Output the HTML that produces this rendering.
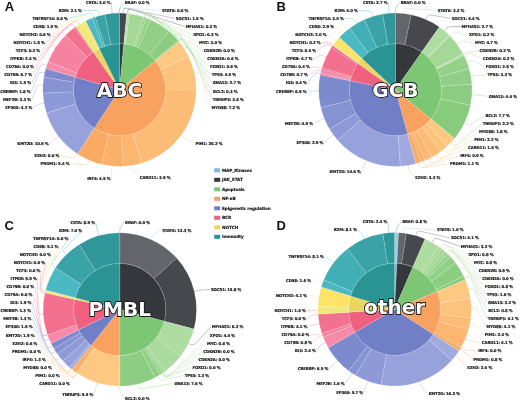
<!DOCTYPE html>
<html><head><meta charset="utf-8"><title>Figure</title>
<style>
html,body{margin:0;padding:0;background:#fff;}
svg{display:block;}
.lab text{font-family:"DejaVu Sans","Liberation Sans",sans-serif;font-weight:bold;font-size:3.9px;letter-spacing:-0.15px;fill:#111;stroke:#111;stroke-width:0.15px;}
.leg text{font-family:"DejaVu Sans","Liberation Sans",sans-serif;font-weight:bold;font-size:4.25px;letter-spacing:-0.14px;fill:#111;stroke:#111;stroke-width:0.12px;}
.ttl text{font-family:"DejaVu Sans","Liberation Sans",sans-serif;font-weight:bold;font-size:20px;fill:#fff;stroke:#1a1a1a;stroke-width:1.8px;stroke-linejoin:round;paint-order:stroke fill;}
.pan text{font-family:"Liberation Sans",sans-serif;font-weight:bold;font-size:13px;fill:#111;}
.ln path{fill:none;stroke-width:0.45;stroke-opacity:0.8;}
</style></head><body>
<svg width="520" height="400" viewBox="0 0 520 400">
<rect width="520" height="400" fill="#fff"/>
<g class="ln"><path d="M124.00,2.35L121.23,5.68Q119.50,7.75 119.50,10.40L119.50,13.05" stroke="#30989b"/><path d="M161.10,10.42L122.19,7.92Q119.50,7.75 119.50,10.40L119.50,13.05" stroke="#96cdeb"/><path d="M175.03,18.49L126.03,8.39Q123.39,7.84 123.26,10.49L123.14,13.14" stroke="#64656a"/><path d="M184.85,26.56L130.61,9.03Q128.05,8.20 127.77,10.83L127.49,13.47" stroke="#46484d"/><path d="M192.34,34.63L132.08,9.42Q129.59,8.37 129.27,11.00L128.94,13.63" stroke="#afdca0"/><path d="M198.21,42.70L140.39,11.16Q138.02,9.87 137.42,12.45L136.82,15.03" stroke="#aada9c"/><path d="M202.83,50.77L147.74,13.50Q145.50,11.98 144.66,14.50L143.82,17.01" stroke="#a5d897"/><path d="M206.41,58.84L149.11,14.15Q146.98,12.49 146.09,14.99L145.20,17.48" stroke="#a0d693"/><path d="M209.08,66.91L152.61,15.69Q150.61,13.88 149.60,16.33L148.60,18.78" stroke="#9bd48e"/><path d="M210.92,74.98L164.83,22.31Q163.06,20.27 161.65,22.52L160.24,24.76" stroke="#96d18a"/><path d="M211.98,83.05L179.13,34.15Q177.62,31.90 175.74,33.77L173.86,35.64" stroke="#91cf86"/><path d="M212.30,91.12L184.14,40.04Q182.84,37.67 180.79,39.36L178.75,41.04" stroke="#8ccd81"/><path d="M211.88,99.19L189.84,48.34Q188.77,45.86 186.53,47.28L184.29,48.70" stroke="#87cb7d"/><path d="M210.70,107.26L200.28,74.19Q199.47,71.61 196.88,72.20L194.30,72.78" stroke="#fdc882"/><path d="M194.79,143.33L187.68,139.93Q185.24,138.76 183.12,137.18L180.99,135.60" stroke="#fdc27c"/><path d="M139.01,177.56L135.12,172.67Q133.44,170.56 132.99,167.94L132.54,165.33" stroke="#fcbc76"/><path d="M111.33,178.45L111.58,174.08Q111.73,171.38 111.98,168.74L112.23,166.10" stroke="#fcb670"/><path d="M70.32,163.75L84.26,164.81Q86.96,165.02 88.01,162.58L89.06,160.15" stroke="#fbb06a"/><path d="M60.08,155.68L71.98,157.89Q74.63,158.39 76.08,156.17L77.53,153.95" stroke="#fbaa64"/><path d="M49.41,144.00L52.28,141.25Q54.23,139.38 56.34,137.78L58.45,136.18" stroke="#a0aae1"/><path d="M33.00,107.26L36.40,105.38Q38.76,104.07 41.37,103.61L43.98,103.15" stroke="#97a2dc"/><path d="M31.82,99.19L36.65,87.20Q37.66,84.69 40.30,84.86L42.95,85.02" stroke="#8e9ad7"/><path d="M31.40,91.12L38.49,74.10Q39.53,71.61 42.12,72.20L44.70,72.78" stroke="#8692d2"/><path d="M31.72,83.05L40.62,65.78Q41.86,63.38 44.37,64.23L46.88,65.08" stroke="#7d8acd"/><path d="M32.78,74.98L49.69,46.87Q51.08,44.56 53.29,46.02L55.50,47.48" stroke="#f68aa8"/><path d="M34.62,66.91L60.29,33.50Q61.93,31.36 63.79,33.24L65.65,35.13" stroke="#f582a0"/><path d="M37.29,58.84L64.70,29.14Q66.53,27.16 68.24,29.18L69.95,31.20" stroke="#f47997"/><path d="M40.87,50.77L70.05,24.67Q72.06,22.87 73.59,25.03L75.13,27.19" stroke="#f3708e"/><path d="M45.49,42.70L74.43,21.46Q76.61,19.86 77.99,22.12L79.38,24.38" stroke="#f26886"/><path d="M51.36,34.63L79.70,18.17Q82.03,16.81 83.24,19.17L84.45,21.53" stroke="#f0e87a"/><path d="M58.85,26.56L84.47,15.55Q86.96,14.48 88.01,16.92L89.06,19.35" stroke="#fde469"/><path d="M68.67,18.49L89.41,13.16Q92.02,12.49 92.91,14.99L93.80,17.48" stroke="#4bb9c3"/><path d="M82.60,10.42L96.02,10.43Q98.72,10.43 99.39,12.99L100.06,15.55" stroke="#42aeb6"/><path d="M111.33,2.35L111.54,5.43Q111.73,8.12 111.98,10.76L112.23,13.40" stroke="#39a3a8"/><path d="M399.90,2.35L397.13,5.68Q395.40,7.75 395.40,10.40L395.40,13.05" stroke="#30989b"/><path d="M437.00,10.42L406.61,8.37Q403.91,8.19 403.64,10.83L403.36,13.46" stroke="#96cdeb"/><path d="M450.93,18.49L430.68,14.98Q428.02,14.52 426.97,16.95L425.91,19.38" stroke="#64656a"/><path d="M460.75,26.56L450.52,26.66Q447.82,26.69 446.12,28.73L444.43,30.77" stroke="#46484d"/><path d="M468.24,34.63L455.93,32.19Q453.28,31.67 451.41,33.54L449.54,35.42" stroke="#afdca0"/><path d="M474.11,42.70L464.12,41.47Q461.44,41.14 459.30,42.71L457.17,44.28" stroke="#aada9c"/><path d="M478.73,50.77L470.75,51.50Q468.06,51.74 465.71,52.97L463.36,54.20" stroke="#a5d897"/><path d="M482.31,58.84L471.05,53.85Q468.58,52.75 466.21,53.95L463.85,55.14" stroke="#a0d693"/><path d="M484.98,66.91L474.21,61.27Q471.82,60.02 469.35,60.98L466.88,61.94" stroke="#9bd48e"/><path d="M486.82,74.98L478.82,75.24Q476.12,75.32 473.51,75.79L470.90,76.26" stroke="#96d18a"/><path d="M488.01,96.36L479.91,95.45Q477.22,95.15 474.58,94.97L471.93,94.80" stroke="#91cf86"/><path d="M484.65,115.33L471.60,123.75Q469.33,125.22 466.94,124.07L464.55,122.93" stroke="#8ccd81"/><path d="M481.86,123.40L456.93,144.46Q454.87,146.21 452.95,144.38L451.03,142.56" stroke="#87cb7d"/><path d="M478.15,131.47L449.59,151.61Q447.38,153.17 445.70,151.12L444.02,149.07" stroke="#fdc882"/><path d="M473.36,139.54L441.42,157.81Q439.08,159.15 437.67,156.91L436.26,154.66" stroke="#fdc27c"/><path d="M467.29,147.61L433.08,162.71Q430.61,163.80 429.47,161.41L428.34,159.02" stroke="#fcbc76"/><path d="M459.52,155.68L427.45,165.48Q424.87,166.27 423.91,163.80L422.96,161.33" stroke="#fcb670"/><path d="M449.28,163.75L422.71,167.58Q420.04,167.96 419.24,165.43L418.44,162.91" stroke="#fbb06a"/><path d="M414.53,177.63L410.66,172.73Q408.99,170.62 408.55,168.00L408.11,165.39" stroke="#fbaa64"/><path d="M361.60,172.04L362.96,167.99Q363.82,165.43 364.84,162.98L365.86,160.53" stroke="#a0aae1"/><path d="M324.13,142.40L327.04,139.73Q329.03,137.90 331.17,136.35L333.32,134.79" stroke="#97a2dc"/><path d="M313.76,123.70L317.04,121.86Q319.40,120.54 321.86,119.54L324.31,118.55" stroke="#8e9ad7"/><path d="M307.30,91.12L310.71,91.15Q313.41,91.17 316.06,91.13L318.71,91.08" stroke="#8692d2"/><path d="M307.62,83.05L313.64,74.72Q315.23,72.53 317.82,73.09L320.41,73.65" stroke="#7d8acd"/><path d="M308.68,74.98L313.69,71.35Q315.87,69.77 318.44,70.41L321.01,71.06" stroke="#f68aa8"/><path d="M310.52,66.91L313.91,66.97Q316.61,67.02 319.16,67.75L321.71,68.49" stroke="#f582a0"/><path d="M313.19,58.84L318.81,56.01Q321.22,54.79 323.62,55.92L326.02,57.05" stroke="#f47997"/><path d="M316.77,50.77L325.47,44.96Q327.72,43.46 329.90,44.95L332.09,46.45" stroke="#f3708e"/><path d="M321.39,42.70L326.01,42.30Q328.69,42.06 330.85,43.60L333.01,45.14" stroke="#f26886"/><path d="M327.26,34.63L329.84,36.17Q332.16,37.55 334.20,39.24L336.25,40.93" stroke="#f0e87a"/><path d="M334.75,26.56L338.26,27.71Q340.83,28.55 342.59,30.52L344.35,32.50" stroke="#fde469"/><path d="M344.57,18.49L351.46,18.77Q354.15,18.88 355.49,21.17L356.82,23.46" stroke="#4bb9c3"/><path d="M358.50,10.42L369.16,11.05Q371.85,11.20 372.61,13.74L373.37,16.28" stroke="#42aeb6"/><path d="M388.26,2.35L388.43,5.34Q388.58,8.03 388.80,10.67L389.02,13.32" stroke="#39a3a8"/><path d="M124.30,222.10L121.53,225.43Q119.80,227.50 119.80,230.15L119.80,232.80" stroke="#30989b"/><path d="M161.40,230.17L155.44,233.29Q153.05,234.55 151.98,236.97L150.90,239.39" stroke="#96cdeb"/><path d="M210.10,289.43L202.17,289.94Q199.48,290.12 196.90,290.75L194.33,291.37" stroke="#64656a"/><path d="M211.00,327.01L195.23,343.74Q193.37,345.71 191.00,344.54L188.62,343.37" stroke="#46484d"/><path d="M209.05,335.08L179.08,366.11Q177.20,368.06 175.35,366.16L173.49,364.27" stroke="#afdca0"/><path d="M206.26,343.15L169.26,374.66Q167.20,376.41 165.67,374.25L164.14,372.09" stroke="#aada9c"/><path d="M202.55,351.22L168.06,375.77Q165.86,377.34 164.38,375.15L162.89,372.95" stroke="#a5d897"/><path d="M197.76,359.29L168.21,376.01Q165.86,377.34 164.38,375.15L162.89,372.95" stroke="#a0d693"/><path d="M191.69,367.36L167.01,377.24Q164.51,378.24 163.06,376.02L161.62,373.80" stroke="#9bd48e"/><path d="M183.92,375.43L162.96,380.19Q160.33,380.78 159.02,378.48L157.71,376.18" stroke="#96d18a"/><path d="M173.68,383.50L141.84,388.74Q139.18,389.18 138.55,386.60L137.93,384.03" stroke="#91cf86"/><path d="M124.30,398.60L121.25,393.78Q119.80,391.50 119.80,388.85L119.80,386.20" stroke="#8ccd81"/><path d="M94.05,394.70L95.07,390.50Q95.70,387.88 96.48,385.35L97.26,382.81" stroke="#87cb7d"/><path d="M52.61,367.36L71.29,376.19Q73.74,377.34 75.22,375.15L76.71,372.95" stroke="#fdc882"/><path d="M60.38,375.43L71.06,376.96Q73.74,377.34 75.22,375.15L76.71,372.95" stroke="#fdc27c"/><path d="M70.62,383.50L72.52,379.75Q73.74,377.34 75.22,375.15L76.71,372.95" stroke="#fcbc76"/><path d="M46.54,359.29L68.82,373.97Q71.08,375.45 72.65,373.32L74.22,371.19" stroke="#fcb670"/><path d="M41.75,351.22L66.42,371.74Q68.49,373.46 70.15,371.40L71.81,369.33" stroke="#fbb06a"/><path d="M38.04,343.15L65.32,370.52Q67.23,372.43 68.93,370.40L70.63,368.36" stroke="#fbaa64"/><path d="M35.25,335.08L60.68,365.97Q62.40,368.06 64.25,366.16L66.11,364.27" stroke="#a0aae1"/><path d="M33.30,327.01L54.34,358.56Q55.84,360.81 57.90,359.15L59.97,357.49" stroke="#97a2dc"/><path d="M32.12,318.94L49.78,351.83Q51.06,354.21 53.28,352.76L55.50,351.32" stroke="#8e9ad7"/><path d="M31.70,310.87L46.67,346.12Q47.72,348.60 50.05,347.34L52.38,346.08" stroke="#8692d2"/><path d="M32.02,302.80L43.38,338.68Q44.20,341.26 46.64,340.23L49.09,339.20" stroke="#7d8acd"/><path d="M34.92,286.66L42.04,334.02Q42.44,336.69 44.94,335.81L47.44,334.94" stroke="#f68aa8"/><path d="M33.08,294.73L41.85,334.06Q42.44,336.69 44.94,335.81L47.44,334.94" stroke="#f582a0"/><path d="M37.59,278.59L37.92,311.69Q37.95,314.39 40.59,314.23L43.24,314.07" stroke="#f47997"/><path d="M41.17,270.52L39.93,289.01Q39.75,291.71 42.34,292.28L44.93,292.86" stroke="#f3708e"/><path d="M45.79,262.45L40.66,287.47Q40.12,290.12 42.70,290.75L45.27,291.37" stroke="#f26886"/><path d="M51.66,254.38L41.36,285.97Q40.52,288.54 43.09,289.22L45.65,289.89" stroke="#f0e87a"/><path d="M59.15,246.31L46.01,273.81Q44.85,276.25 47.27,277.32L49.69,278.40" stroke="#fde469"/><path d="M68.97,238.24L52.57,262.56Q51.06,264.79 53.28,266.24L55.50,267.68" stroke="#4bb9c3"/><path d="M82.90,230.17L64.29,249.02Q62.40,250.94 64.25,252.84L66.11,254.73" stroke="#42aeb6"/><path d="M95.74,222.10L96.79,228.00Q97.27,230.66 98.00,233.20L98.72,235.75" stroke="#39a3a8"/><path d="M401.36,221.90L398.45,225.28Q396.69,227.33 396.63,229.98L396.56,232.63" stroke="#30989b"/><path d="M436.20,229.97L405.66,227.91Q402.96,227.73 402.69,230.36L402.42,233.00" stroke="#96cdeb"/><path d="M450.13,238.04L419.97,231.12Q417.34,230.52 416.60,233.06L415.87,235.61" stroke="#64656a"/><path d="M459.95,246.11L437.25,238.61Q434.69,237.77 433.39,240.08L432.10,242.39" stroke="#46484d"/><path d="M467.44,254.18L445.94,244.56Q443.47,243.46 441.89,245.58L440.31,247.71" stroke="#afdca0"/><path d="M473.31,262.25L449.08,247.45Q446.77,246.04 445.09,248.08L443.40,250.13" stroke="#aada9c"/><path d="M477.93,270.32L452.07,250.43Q449.93,248.78 448.15,250.74L446.36,252.70" stroke="#a5d897"/><path d="M481.51,278.39L453.43,252.06Q451.46,250.22 449.62,252.13L447.79,254.04" stroke="#a0d693"/><path d="M484.18,286.46L454.76,253.70Q452.95,251.69 451.07,253.55L449.18,255.41" stroke="#9bd48e"/><path d="M486.02,294.53L458.82,258.48Q457.19,256.32 455.17,258.04L453.15,259.75" stroke="#96d18a"/><path d="M487.08,302.60L465.97,268.79Q464.54,266.50 462.28,267.88L460.02,269.27" stroke="#91cf86"/><path d="M487.40,310.67L470.66,278.16Q469.43,275.76 467.01,276.84L464.59,277.92" stroke="#8ccd81"/><path d="M486.98,318.74L474.73,290.05Q473.67,287.57 471.11,288.27L468.56,288.98" stroke="#87cb7d"/><path d="M485.80,326.81L477.79,310.67Q476.59,308.25 473.94,308.29L471.29,308.32" stroke="#fdc882"/><path d="M483.85,334.88L476.88,326.94Q475.10,324.91 472.50,324.41L469.90,323.90" stroke="#fdc27c"/><path d="M481.06,342.95L472.91,341.42Q470.26,340.92 467.81,339.90L465.37,338.88" stroke="#fcbc76"/><path d="M477.35,351.02L468.31,350.47Q465.61,350.30 463.32,348.98L461.02,347.65" stroke="#fcb670"/><path d="M472.56,359.09L466.58,353.87Q464.54,352.10 462.28,350.72L460.02,349.33" stroke="#fbb06a"/><path d="M466.49,367.16L461.52,361.10Q459.81,359.01 457.71,357.40L455.60,355.80" stroke="#fbaa64"/><path d="M427.88,393.58L423.21,388.76Q421.33,386.82 420.47,384.32L419.60,381.81" stroke="#a0aae1"/><path d="M363.89,392.81L365.13,388.70Q365.90,386.11 366.83,383.63L367.75,381.15" stroke="#97a2dc"/><path d="M345.42,383.30L347.68,379.82Q349.15,377.55 350.62,375.35L352.09,373.14" stroke="#8e9ad7"/><path d="M329.01,369.00L331.63,365.91Q333.38,363.86 335.36,362.09L337.34,360.33" stroke="#8692d2"/><path d="M316.55,351.02L319.18,347.00Q320.66,344.74 323.05,343.60L325.44,342.45" stroke="#7d8acd"/><path d="M312.84,342.95L315.77,339.15Q317.43,337.02 319.92,336.12L322.41,335.23" stroke="#f68aa8"/><path d="M310.05,334.88L314.04,334.97Q316.74,335.04 319.26,334.21L321.78,333.37" stroke="#f582a0"/><path d="M308.10,326.81L311.53,325.73Q314.10,324.91 316.70,324.41L319.30,323.90" stroke="#f47997"/><path d="M306.92,318.74L310.58,316.11Q312.77,314.53 315.41,314.36L318.06,314.19" stroke="#f3708e"/><path d="M306.50,310.67L309.91,310.49Q312.61,310.35 315.26,310.31L317.91,310.28" stroke="#f26886"/><path d="M307.71,295.51L311.03,295.64Q313.73,295.75 316.34,296.19L318.95,296.62" stroke="#f0e87a"/><path d="M311.70,280.25L314.80,280.97Q317.43,281.58 319.92,282.48L322.41,283.37" stroke="#fde469"/><path d="M324.58,256.57L327.10,258.15Q329.39,259.59 331.49,261.20L333.60,262.80" stroke="#4bb9c3"/><path d="M357.70,229.97L360.05,232.20Q362.01,234.05 363.07,236.48L364.12,238.92" stroke="#42aeb6"/><path d="M388.04,221.90L388.19,224.84Q388.32,227.54 388.53,230.18L388.73,232.83" stroke="#39a3a8"/></g>
<g class="pie"><path d="M119.50,13.05A76.70,76.70 0 0 1 126.77,13.40L123.86,43.94A46.02,46.02 0 0 0 119.50,43.73Z" fill="#46484d" stroke="#fff" stroke-opacity="0.38" stroke-width="0.4"/><path d="M126.77,13.40A76.70,76.70 0 0 1 128.22,13.55L124.73,44.03A46.02,46.02 0 0 0 123.86,43.94Z" fill="#afdca0" stroke="#fff" stroke-opacity="0.38" stroke-width="0.4"/><path d="M128.22,13.55A76.70,76.70 0 0 1 129.66,13.73L125.60,44.14A46.02,46.02 0 0 0 124.73,44.03Z" fill="#aada9c" stroke="#fff" stroke-opacity="0.38" stroke-width="0.4"/><path d="M129.66,13.73A76.70,76.70 0 0 1 143.82,17.01L134.09,46.11A46.02,46.02 0 0 0 125.60,44.14Z" fill="#a5d897" stroke="#fff" stroke-opacity="0.38" stroke-width="0.4"/><path d="M143.82,17.01A76.70,76.70 0 0 1 146.57,17.98L135.74,46.69A46.02,46.02 0 0 0 134.09,46.11Z" fill="#9bd48e" stroke="#fff" stroke-opacity="0.38" stroke-width="0.4"/><path d="M146.57,17.98A76.70,76.70 0 0 1 150.61,19.64L138.16,47.68A46.02,46.02 0 0 0 135.74,46.69Z" fill="#96d18a" stroke="#fff" stroke-opacity="0.38" stroke-width="0.4"/><path d="M150.61,19.64A76.70,76.70 0 0 1 169.05,31.20L149.23,54.62A46.02,46.02 0 0 0 138.16,47.68Z" fill="#91cf86" stroke="#fff" stroke-opacity="0.38" stroke-width="0.4"/><path d="M169.05,31.20A76.70,76.70 0 0 1 178.28,40.48L154.77,60.19A46.02,46.02 0 0 0 149.23,54.62Z" fill="#8ccd81" stroke="#fff" stroke-opacity="0.38" stroke-width="0.4"/><path d="M178.28,40.48A76.70,76.70 0 0 1 179.21,41.60L155.32,60.86A46.02,46.02 0 0 0 154.77,60.19Z" fill="#87cb7d" stroke="#fff" stroke-opacity="0.38" stroke-width="0.4"/><path d="M179.21,41.60A76.70,76.70 0 0 1 188.54,56.33L160.92,69.70A46.02,46.02 0 0 0 155.32,60.86Z" fill="#fdc882" stroke="#fff" stroke-opacity="0.38" stroke-width="0.4"/><path d="M188.54,56.33A76.70,76.70 0 0 1 196.20,90.11L165.52,89.97A46.02,46.02 0 0 0 160.92,69.70Z" fill="#fdc27c" stroke="#fff" stroke-opacity="0.38" stroke-width="0.4"/><path d="M196.20,90.11A76.70,76.70 0 0 1 141.74,163.15L132.85,133.79A46.02,46.02 0 0 0 165.52,89.97Z" fill="#fcbc76" stroke="#fff" stroke-opacity="0.38" stroke-width="0.4"/><path d="M141.74,163.15A76.70,76.70 0 0 1 123.14,166.36L121.68,135.72A46.02,46.02 0 0 0 132.85,133.79Z" fill="#fcb670" stroke="#fff" stroke-opacity="0.38" stroke-width="0.4"/><path d="M123.14,166.36A76.70,76.70 0 0 1 101.47,164.30L108.68,134.48A46.02,46.02 0 0 0 121.68,135.72Z" fill="#fbb06a" stroke="#fff" stroke-opacity="0.38" stroke-width="0.4"/><path d="M101.47,164.30A76.70,76.70 0 0 1 77.53,153.95L94.32,128.27A46.02,46.02 0 0 0 108.68,134.48Z" fill="#fbaa64" stroke="#fff" stroke-opacity="0.38" stroke-width="0.4"/><path d="M77.53,153.95A76.70,76.70 0 0 1 46.42,113.04L75.65,103.72A46.02,46.02 0 0 0 94.32,128.27Z" fill="#97a2dc" stroke="#fff" stroke-opacity="0.38" stroke-width="0.4"/><path d="M46.42,113.04A76.70,76.70 0 0 1 42.87,93.02L73.52,91.71A46.02,46.02 0 0 0 75.65,103.72Z" fill="#8e9ad7" stroke="#fff" stroke-opacity="0.38" stroke-width="0.4"/><path d="M42.87,93.02A76.70,76.70 0 0 1 43.86,77.07L74.11,82.14A46.02,46.02 0 0 0 73.52,91.71Z" fill="#8692d2" stroke="#fff" stroke-opacity="0.38" stroke-width="0.4"/><path d="M43.86,77.07A76.70,76.70 0 0 1 45.79,68.55L75.27,77.03A46.02,46.02 0 0 0 74.11,82.14Z" fill="#7d8acd" stroke="#fff" stroke-opacity="0.38" stroke-width="0.4"/><path d="M45.79,68.55A76.70,76.70 0 0 1 48.13,61.66L76.68,72.90A46.02,46.02 0 0 0 75.27,77.03Z" fill="#f68aa8" stroke="#fff" stroke-opacity="0.38" stroke-width="0.4"/><path d="M48.13,61.66A76.70,76.70 0 0 1 65.65,35.13L87.19,56.98A46.02,46.02 0 0 0 76.68,72.90Z" fill="#f582a0" stroke="#fff" stroke-opacity="0.38" stroke-width="0.4"/><path d="M65.65,35.13A76.70,76.70 0 0 1 74.53,27.61L92.52,52.47A46.02,46.02 0 0 0 87.19,56.98Z" fill="#f3708e" stroke="#fff" stroke-opacity="0.38" stroke-width="0.4"/><path d="M74.53,27.61A76.70,76.70 0 0 1 75.72,26.77L93.23,51.96A46.02,46.02 0 0 0 92.52,52.47Z" fill="#f26886" stroke="#fff" stroke-opacity="0.38" stroke-width="0.4"/><path d="M75.72,26.77A76.70,76.70 0 0 1 83.16,22.20L97.70,49.22A46.02,46.02 0 0 0 93.23,51.96Z" fill="#f0e87a" stroke="#fff" stroke-opacity="0.38" stroke-width="0.4"/><path d="M83.16,22.20A76.70,76.70 0 0 1 85.75,20.87L99.25,48.42A46.02,46.02 0 0 0 97.70,49.22Z" fill="#fde469" stroke="#fff" stroke-opacity="0.38" stroke-width="0.4"/><path d="M85.75,20.87A76.70,76.70 0 0 1 92.43,17.98L103.26,46.69A46.02,46.02 0 0 0 99.25,48.42Z" fill="#4bb9c3" stroke="#fff" stroke-opacity="0.38" stroke-width="0.4"/><path d="M92.43,17.98A76.70,76.70 0 0 1 95.18,17.01L104.91,46.11A46.02,46.02 0 0 0 103.26,46.69Z" fill="#42aeb6" stroke="#fff" stroke-opacity="0.38" stroke-width="0.4"/><path d="M95.18,17.01A76.70,76.70 0 0 1 105.03,14.43L110.82,44.56A46.02,46.02 0 0 0 104.91,46.11Z" fill="#39a3a8" stroke="#fff" stroke-opacity="0.38" stroke-width="0.4"/><path d="M105.03,14.43A76.70,76.70 0 0 1 119.50,13.05L119.50,43.73A46.02,46.02 0 0 0 110.82,44.56Z" fill="#30989b" stroke="#fff" stroke-opacity="0.38" stroke-width="0.4"/><path d="M119.50,89.75L119.50,43.73A46.02,46.02 0 0 1 123.86,43.94Z" fill="#34373c" stroke="#fff" stroke-opacity="0.35" stroke-width="0.4"/><path d="M119.50,89.75L123.86,43.94A46.02,46.02 0 0 1 155.32,60.86Z" fill="#7cc674" stroke="#fff" stroke-opacity="0.35" stroke-width="0.4"/><path d="M119.50,89.75L155.32,60.86A46.02,46.02 0 0 1 94.32,128.27Z" fill="#f9a15f" stroke="#fff" stroke-opacity="0.35" stroke-width="0.4"/><path d="M119.50,89.75L94.32,128.27A46.02,46.02 0 0 1 75.27,77.03Z" fill="#717fc7" stroke="#fff" stroke-opacity="0.35" stroke-width="0.4"/><path d="M119.50,89.75L75.27,77.03A46.02,46.02 0 0 1 93.23,51.96Z" fill="#f0607f" stroke="#fff" stroke-opacity="0.35" stroke-width="0.4"/><path d="M119.50,89.75L93.23,51.96A46.02,46.02 0 0 1 99.25,48.42Z" fill="#ebd75f" stroke="#fff" stroke-opacity="0.35" stroke-width="0.4"/><path d="M119.50,89.75L99.25,48.42A46.02,46.02 0 0 1 119.50,43.73Z" fill="#2a9494" stroke="#fff" stroke-opacity="0.35" stroke-width="0.4"/><path d="M395.40,13.05A76.70,76.70 0 0 1 411.24,14.70L404.91,44.72A46.02,46.02 0 0 0 395.40,43.73Z" fill="#64656a" stroke="#fff" stroke-opacity="0.38" stroke-width="0.4"/><path d="M411.24,14.70A76.70,76.70 0 0 1 439.36,26.90L421.77,52.04A46.02,46.02 0 0 0 404.91,44.72Z" fill="#46484d" stroke="#fff" stroke-opacity="0.38" stroke-width="0.4"/><path d="M439.36,26.90A76.70,76.70 0 0 1 449.16,35.05L427.66,56.93A46.02,46.02 0 0 0 421.77,52.04Z" fill="#afdca0" stroke="#fff" stroke-opacity="0.38" stroke-width="0.4"/><path d="M449.16,35.05A76.70,76.70 0 0 1 449.92,35.80L428.11,57.38A46.02,46.02 0 0 0 427.66,56.93Z" fill="#aada9c" stroke="#fff" stroke-opacity="0.38" stroke-width="0.4"/><path d="M449.92,35.80A76.70,76.70 0 0 1 463.11,53.73L436.03,68.14A46.02,46.02 0 0 0 428.11,57.38Z" fill="#a5d897" stroke="#fff" stroke-opacity="0.38" stroke-width="0.4"/><path d="M463.11,53.73A76.70,76.70 0 0 1 463.61,54.67L436.32,68.70A46.02,46.02 0 0 0 436.03,68.14Z" fill="#a0d693" stroke="#fff" stroke-opacity="0.38" stroke-width="0.4"/><path d="M463.61,54.67A76.70,76.70 0 0 1 464.09,55.62L436.61,69.27A46.02,46.02 0 0 0 436.32,68.70Z" fill="#9bd48e" stroke="#fff" stroke-opacity="0.38" stroke-width="0.4"/><path d="M464.09,55.62A76.70,76.70 0 0 1 469.09,68.49L439.62,76.99A46.02,46.02 0 0 0 436.61,69.27Z" fill="#96d18a" stroke="#fff" stroke-opacity="0.38" stroke-width="0.4"/><path d="M469.09,68.49A76.70,76.70 0 0 1 471.90,84.17L441.30,86.40A46.02,46.02 0 0 0 439.62,76.99Z" fill="#91cf86" stroke="#fff" stroke-opacity="0.38" stroke-width="0.4"/><path d="M471.90,84.17A76.70,76.70 0 0 1 470.50,105.33L440.46,99.10A46.02,46.02 0 0 0 441.30,86.40Z" fill="#8ccd81" stroke="#fff" stroke-opacity="0.38" stroke-width="0.4"/><path d="M470.50,105.33A76.70,76.70 0 0 1 454.55,138.57L430.89,119.04A46.02,46.02 0 0 0 440.46,99.10Z" fill="#87cb7d" stroke="#fff" stroke-opacity="0.38" stroke-width="0.4"/><path d="M454.55,138.57A76.70,76.70 0 0 1 447.23,146.28L426.50,123.67A46.02,46.02 0 0 0 430.89,119.04Z" fill="#fdc882" stroke="#fff" stroke-opacity="0.38" stroke-width="0.4"/><path d="M447.23,146.28A76.70,76.70 0 0 1 440.66,151.68L422.55,126.91A46.02,46.02 0 0 0 426.50,123.67Z" fill="#fdc27c" stroke="#fff" stroke-opacity="0.38" stroke-width="0.4"/><path d="M440.66,151.68A76.70,76.70 0 0 1 431.66,157.34L417.16,130.30A46.02,46.02 0 0 0 422.55,126.91Z" fill="#fcbc76" stroke="#fff" stroke-opacity="0.38" stroke-width="0.4"/><path d="M431.66,157.34A76.70,76.70 0 0 1 424.94,160.53L413.12,132.22A46.02,46.02 0 0 0 417.16,130.30Z" fill="#fcb670" stroke="#fff" stroke-opacity="0.38" stroke-width="0.4"/><path d="M424.94,160.53A76.70,76.70 0 0 1 420.97,162.06L410.74,133.14A46.02,46.02 0 0 0 413.12,132.22Z" fill="#fbb06a" stroke="#fff" stroke-opacity="0.38" stroke-width="0.4"/><path d="M420.97,162.06A76.70,76.70 0 0 1 415.89,163.66L407.70,134.10A46.02,46.02 0 0 0 410.74,133.14Z" fill="#fbaa64" stroke="#fff" stroke-opacity="0.38" stroke-width="0.4"/><path d="M415.89,163.66A76.70,76.70 0 0 1 400.18,166.30L398.27,135.68A46.02,46.02 0 0 0 407.70,134.10Z" fill="#a0aae1" stroke="#fff" stroke-opacity="0.38" stroke-width="0.4"/><path d="M400.18,166.30A76.70,76.70 0 0 1 337.62,140.20L360.73,120.02A46.02,46.02 0 0 0 398.27,135.68Z" fill="#97a2dc" stroke="#fff" stroke-opacity="0.38" stroke-width="0.4"/><path d="M337.62,140.20A76.70,76.70 0 0 1 329.51,129.02L355.87,113.31A46.02,46.02 0 0 0 360.73,120.02Z" fill="#8e9ad7" stroke="#fff" stroke-opacity="0.38" stroke-width="0.4"/><path d="M329.51,129.02A76.70,76.70 0 0 1 320.76,107.41L350.62,100.35A46.02,46.02 0 0 0 355.87,113.31Z" fill="#8692d2" stroke="#fff" stroke-opacity="0.38" stroke-width="0.4"/><path d="M320.76,107.41A76.70,76.70 0 0 1 320.19,74.69L350.28,80.71A46.02,46.02 0 0 0 350.62,100.35Z" fill="#7d8acd" stroke="#fff" stroke-opacity="0.38" stroke-width="0.4"/><path d="M320.19,74.69A76.70,76.70 0 0 1 320.64,72.61L350.54,79.47A46.02,46.02 0 0 0 350.28,80.71Z" fill="#f68aa8" stroke="#fff" stroke-opacity="0.38" stroke-width="0.4"/><path d="M320.64,72.61A76.70,76.70 0 0 1 321.42,69.51L351.01,77.61A46.02,46.02 0 0 0 350.54,79.47Z" fill="#f582a0" stroke="#fff" stroke-opacity="0.38" stroke-width="0.4"/><path d="M321.42,69.51A76.70,76.70 0 0 1 322.01,67.47L351.36,76.38A46.02,46.02 0 0 0 351.01,77.61Z" fill="#f47997" stroke="#fff" stroke-opacity="0.38" stroke-width="0.4"/><path d="M322.01,67.47A76.70,76.70 0 0 1 331.50,47.33L357.06,64.30A46.02,46.02 0 0 0 351.36,76.38Z" fill="#f3708e" stroke="#fff" stroke-opacity="0.38" stroke-width="0.4"/><path d="M331.50,47.33A76.70,76.70 0 0 1 332.70,45.58L357.78,63.25A46.02,46.02 0 0 0 357.06,64.30Z" fill="#f26886" stroke="#fff" stroke-opacity="0.38" stroke-width="0.4"/><path d="M332.70,45.58A76.70,76.70 0 0 1 333.32,44.71L358.15,62.73A46.02,46.02 0 0 0 357.78,63.25Z" fill="#f0e87a" stroke="#fff" stroke-opacity="0.38" stroke-width="0.4"/><path d="M333.32,44.71A76.70,76.70 0 0 1 339.41,37.33L361.80,58.30A46.02,46.02 0 0 0 358.15,62.73Z" fill="#fde469" stroke="#fff" stroke-opacity="0.38" stroke-width="0.4"/><path d="M339.41,37.33A76.70,76.70 0 0 1 349.72,28.14L367.99,52.78A46.02,46.02 0 0 0 361.80,58.30Z" fill="#4bb9c3" stroke="#fff" stroke-opacity="0.38" stroke-width="0.4"/><path d="M349.72,28.14A76.70,76.70 0 0 1 364.40,19.59L376.80,47.66A46.02,46.02 0 0 0 367.99,52.78Z" fill="#42aeb6" stroke="#fff" stroke-opacity="0.38" stroke-width="0.4"/><path d="M364.40,19.59A76.70,76.70 0 0 1 382.69,14.11L387.78,44.37A46.02,46.02 0 0 0 376.80,47.66Z" fill="#39a3a8" stroke="#fff" stroke-opacity="0.38" stroke-width="0.4"/><path d="M382.69,14.11A76.70,76.70 0 0 1 395.40,13.05L395.40,43.73A46.02,46.02 0 0 0 387.78,44.37Z" fill="#30989b" stroke="#fff" stroke-opacity="0.38" stroke-width="0.4"/><path d="M395.40,89.75L395.40,43.73A46.02,46.02 0 0 1 421.77,52.04Z" fill="#34373c" stroke="#fff" stroke-opacity="0.35" stroke-width="0.4"/><path d="M395.40,89.75L421.77,52.04A46.02,46.02 0 0 1 430.89,119.04Z" fill="#7cc674" stroke="#fff" stroke-opacity="0.35" stroke-width="0.4"/><path d="M395.40,89.75L430.89,119.04A46.02,46.02 0 0 1 407.70,134.10Z" fill="#f9a15f" stroke="#fff" stroke-opacity="0.35" stroke-width="0.4"/><path d="M395.40,89.75L407.70,134.10A46.02,46.02 0 0 1 350.28,80.71Z" fill="#717fc7" stroke="#fff" stroke-opacity="0.35" stroke-width="0.4"/><path d="M395.40,89.75L350.28,80.71A46.02,46.02 0 0 1 357.78,63.25Z" fill="#f0607f" stroke="#fff" stroke-opacity="0.35" stroke-width="0.4"/><path d="M395.40,89.75L357.78,63.25A46.02,46.02 0 0 1 361.80,58.30Z" fill="#ebd75f" stroke="#fff" stroke-opacity="0.35" stroke-width="0.4"/><path d="M395.40,89.75L361.80,58.30A46.02,46.02 0 0 1 395.40,43.73Z" fill="#2a9494" stroke="#fff" stroke-opacity="0.35" stroke-width="0.4"/><path d="M119.80,232.80A76.70,76.70 0 0 1 176.66,258.03L153.92,278.62A46.02,46.02 0 0 0 119.80,263.48Z" fill="#64656a" stroke="#fff" stroke-opacity="0.38" stroke-width="0.4"/><path d="M176.66,258.03A76.70,76.70 0 0 1 193.95,329.11L164.29,321.26A46.02,46.02 0 0 0 153.92,278.62Z" fill="#46484d" stroke="#fff" stroke-opacity="0.38" stroke-width="0.4"/><path d="M193.95,329.11A76.70,76.70 0 0 1 180.57,356.29L156.26,337.58A46.02,46.02 0 0 0 164.29,321.26Z" fill="#afdca0" stroke="#fff" stroke-opacity="0.38" stroke-width="0.4"/><path d="M180.57,356.29A76.70,76.70 0 0 1 165.38,371.19L147.15,346.51A46.02,46.02 0 0 0 156.26,337.58Z" fill="#aada9c" stroke="#fff" stroke-opacity="0.38" stroke-width="0.4"/><path d="M165.38,371.19A76.70,76.70 0 0 1 162.89,372.95L145.65,347.57A46.02,46.02 0 0 0 147.15,346.51Z" fill="#a5d897" stroke="#fff" stroke-opacity="0.38" stroke-width="0.4"/><path d="M162.89,372.95A76.70,76.70 0 0 1 160.33,374.62L144.12,348.57A46.02,46.02 0 0 0 145.65,347.57Z" fill="#96d18a" stroke="#fff" stroke-opacity="0.38" stroke-width="0.4"/><path d="M160.33,374.62A76.70,76.70 0 0 1 155.03,377.63L140.94,350.38A46.02,46.02 0 0 0 144.12,348.57Z" fill="#91cf86" stroke="#fff" stroke-opacity="0.38" stroke-width="0.4"/><path d="M155.03,377.63A76.70,76.70 0 0 1 119.80,386.20L119.80,355.52A46.02,46.02 0 0 0 140.94,350.38Z" fill="#8ccd81" stroke="#fff" stroke-opacity="0.38" stroke-width="0.4"/><path d="M119.80,386.20A76.70,76.70 0 0 1 76.71,372.95L93.95,347.57A46.02,46.02 0 0 0 119.80,355.52Z" fill="#fdc882" stroke="#fff" stroke-opacity="0.38" stroke-width="0.4"/><path d="M76.71,372.95A76.70,76.70 0 0 1 71.81,369.33L91.00,345.40A46.02,46.02 0 0 0 93.95,347.57Z" fill="#fbb06a" stroke="#fff" stroke-opacity="0.38" stroke-width="0.4"/><path d="M71.81,369.33A76.70,76.70 0 0 1 69.47,367.38L89.60,344.23A46.02,46.02 0 0 0 91.00,345.40Z" fill="#a0aae1" stroke="#fff" stroke-opacity="0.38" stroke-width="0.4"/><path d="M69.47,367.38A76.70,76.70 0 0 1 62.94,360.97L85.68,340.38A46.02,46.02 0 0 0 89.60,344.23Z" fill="#97a2dc" stroke="#fff" stroke-opacity="0.38" stroke-width="0.4"/><path d="M62.94,360.97A76.70,76.70 0 0 1 57.21,353.84L82.25,336.10A46.02,46.02 0 0 0 85.68,340.38Z" fill="#8e9ad7" stroke="#fff" stroke-opacity="0.38" stroke-width="0.4"/><path d="M57.21,353.84A76.70,76.70 0 0 1 53.89,348.73L80.25,333.04A46.02,46.02 0 0 0 82.25,336.10Z" fill="#8692d2" stroke="#fff" stroke-opacity="0.38" stroke-width="0.4"/><path d="M53.89,348.73A76.70,76.70 0 0 1 50.98,343.37L78.51,329.82A46.02,46.02 0 0 0 80.25,333.04Z" fill="#7d8acd" stroke="#fff" stroke-opacity="0.38" stroke-width="0.4"/><path d="M50.98,343.37A76.70,76.70 0 0 1 47.44,334.94L76.38,324.76A46.02,46.02 0 0 0 78.51,329.82Z" fill="#f68aa8" stroke="#fff" stroke-opacity="0.38" stroke-width="0.4"/><path d="M47.44,334.94A76.70,76.70 0 0 1 44.93,292.86L74.88,299.51A46.02,46.02 0 0 0 76.38,324.76Z" fill="#f3708e" stroke="#fff" stroke-opacity="0.38" stroke-width="0.4"/><path d="M44.93,292.86A76.70,76.70 0 0 1 45.65,289.89L75.31,297.74A46.02,46.02 0 0 0 74.88,299.51Z" fill="#f0e87a" stroke="#fff" stroke-opacity="0.38" stroke-width="0.4"/><path d="M45.65,289.89A76.70,76.70 0 0 1 55.50,267.68L81.22,284.41A46.02,46.02 0 0 0 75.31,297.74Z" fill="#4bb9c3" stroke="#fff" stroke-opacity="0.38" stroke-width="0.4"/><path d="M55.50,267.68A76.70,76.70 0 0 1 79.27,244.38L95.48,270.43A46.02,46.02 0 0 0 81.22,284.41Z" fill="#39a3a8" stroke="#fff" stroke-opacity="0.38" stroke-width="0.4"/><path d="M79.27,244.38A76.70,76.70 0 0 1 119.80,232.80L119.80,263.48A46.02,46.02 0 0 0 95.48,270.43Z" fill="#30989b" stroke="#fff" stroke-opacity="0.38" stroke-width="0.4"/><path d="M119.80,309.50L119.80,263.48A46.02,46.02 0 0 1 164.29,321.26Z" fill="#34373c" stroke="#fff" stroke-opacity="0.35" stroke-width="0.4"/><path d="M119.80,309.50L164.29,321.26A46.02,46.02 0 0 1 119.80,355.52Z" fill="#7cc674" stroke="#fff" stroke-opacity="0.35" stroke-width="0.4"/><path d="M119.80,309.50L119.80,355.52A46.02,46.02 0 0 1 91.00,345.40Z" fill="#f9a15f" stroke="#fff" stroke-opacity="0.35" stroke-width="0.4"/><path d="M119.80,309.50L91.00,345.40A46.02,46.02 0 0 1 78.51,329.82Z" fill="#717fc7" stroke="#fff" stroke-opacity="0.35" stroke-width="0.4"/><path d="M119.80,309.50L78.51,329.82A46.02,46.02 0 0 1 74.88,299.51Z" fill="#f0607f" stroke="#fff" stroke-opacity="0.35" stroke-width="0.4"/><path d="M119.80,309.50L74.88,299.51A46.02,46.02 0 0 1 75.31,297.74Z" fill="#ebd75f" stroke="#fff" stroke-opacity="0.35" stroke-width="0.4"/><path d="M119.80,309.50L75.31,297.74A46.02,46.02 0 0 1 119.80,263.48Z" fill="#2a9494" stroke="#fff" stroke-opacity="0.35" stroke-width="0.4"/><path d="M394.60,232.60A76.70,76.70 0 0 1 398.52,232.70L396.95,263.34A46.02,46.02 0 0 0 394.60,263.28Z" fill="#96cdeb" stroke="#fff" stroke-opacity="0.38" stroke-width="0.4"/><path d="M398.52,232.70A76.70,76.70 0 0 1 406.31,233.50L401.62,263.82A46.02,46.02 0 0 0 396.95,263.34Z" fill="#64656a" stroke="#fff" stroke-opacity="0.38" stroke-width="0.4"/><path d="M406.31,233.50A76.70,76.70 0 0 1 425.08,238.92L412.89,267.07A46.02,46.02 0 0 0 401.62,263.82Z" fill="#46484d" stroke="#fff" stroke-opacity="0.38" stroke-width="0.4"/><path d="M425.08,238.92A76.70,76.70 0 0 1 438.73,246.56L421.08,271.66A46.02,46.02 0 0 0 412.89,267.07Z" fill="#afdca0" stroke="#fff" stroke-opacity="0.38" stroke-width="0.4"/><path d="M438.73,246.56A76.70,76.70 0 0 1 441.87,248.90L422.96,273.06A46.02,46.02 0 0 0 421.08,271.66Z" fill="#aada9c" stroke="#fff" stroke-opacity="0.38" stroke-width="0.4"/><path d="M441.87,248.90A76.70,76.70 0 0 1 444.90,251.39L424.78,274.56A46.02,46.02 0 0 0 422.96,273.06Z" fill="#a5d897" stroke="#fff" stroke-opacity="0.38" stroke-width="0.4"/><path d="M444.90,251.39A76.70,76.70 0 0 1 447.79,254.04L426.51,276.14A46.02,46.02 0 0 0 424.78,274.56Z" fill="#a0d693" stroke="#fff" stroke-opacity="0.38" stroke-width="0.4"/><path d="M447.79,254.04A76.70,76.70 0 0 1 450.54,256.82L428.16,277.81A46.02,46.02 0 0 0 426.51,276.14Z" fill="#96d18a" stroke="#fff" stroke-opacity="0.38" stroke-width="0.4"/><path d="M450.54,256.82A76.70,76.70 0 0 1 455.60,262.80L431.20,281.40A46.02,46.02 0 0 0 428.16,277.81Z" fill="#91cf86" stroke="#fff" stroke-opacity="0.38" stroke-width="0.4"/><path d="M455.60,262.80A76.70,76.70 0 0 1 463.76,276.15L436.10,289.41A46.02,46.02 0 0 0 431.20,281.40Z" fill="#8ccd81" stroke="#fff" stroke-opacity="0.38" stroke-width="0.4"/><path d="M463.76,276.15A76.70,76.70 0 0 1 465.37,279.72L437.06,291.55A46.02,46.02 0 0 0 436.10,289.41Z" fill="#87cb7d" stroke="#fff" stroke-opacity="0.38" stroke-width="0.4"/><path d="M465.37,279.72A76.70,76.70 0 0 1 470.54,298.56L440.17,302.86A46.02,46.02 0 0 0 437.06,291.55Z" fill="#fdc882" stroke="#fff" stroke-opacity="0.38" stroke-width="0.4"/><path d="M470.54,298.56A76.70,76.70 0 0 1 470.79,318.10L440.32,314.58A46.02,46.02 0 0 0 440.17,302.86Z" fill="#fdc27c" stroke="#fff" stroke-opacity="0.38" stroke-width="0.4"/><path d="M470.79,318.10A76.70,76.70 0 0 1 468.56,329.62L438.97,321.49A46.02,46.02 0 0 0 440.32,314.58Z" fill="#fcbc76" stroke="#fff" stroke-opacity="0.38" stroke-width="0.4"/><path d="M468.56,329.62A76.70,76.70 0 0 1 461.02,347.65L434.45,332.31A46.02,46.02 0 0 0 438.97,321.49Z" fill="#fcb670" stroke="#fff" stroke-opacity="0.38" stroke-width="0.4"/><path d="M461.02,347.65A76.70,76.70 0 0 1 458.98,350.99L433.23,334.31A46.02,46.02 0 0 0 434.45,332.31Z" fill="#fbaa64" stroke="#fff" stroke-opacity="0.38" stroke-width="0.4"/><path d="M458.98,350.99A76.70,76.70 0 0 1 451.86,360.33L428.96,339.92A46.02,46.02 0 0 0 433.23,334.31Z" fill="#a0aae1" stroke="#fff" stroke-opacity="0.38" stroke-width="0.4"/><path d="M451.86,360.33A76.70,76.70 0 0 1 380.96,384.78L386.42,354.59A46.02,46.02 0 0 0 428.96,339.92Z" fill="#97a2dc" stroke="#fff" stroke-opacity="0.38" stroke-width="0.4"/><path d="M380.96,384.78A76.70,76.70 0 0 1 355.40,375.23L371.08,348.86A46.02,46.02 0 0 0 386.42,354.59Z" fill="#8e9ad7" stroke="#fff" stroke-opacity="0.38" stroke-width="0.4"/><path d="M355.40,375.23A76.70,76.70 0 0 1 348.89,370.89L367.17,346.25A46.02,46.02 0 0 0 371.08,348.86Z" fill="#8692d2" stroke="#fff" stroke-opacity="0.38" stroke-width="0.4"/><path d="M348.89,370.89A76.70,76.70 0 0 1 328.18,347.65L354.75,332.31A46.02,46.02 0 0 0 367.17,346.25Z" fill="#7d8acd" stroke="#fff" stroke-opacity="0.38" stroke-width="0.4"/><path d="M328.18,347.65A76.70,76.70 0 0 1 323.10,337.06L351.70,325.96A46.02,46.02 0 0 0 354.75,332.31Z" fill="#f68aa8" stroke="#fff" stroke-opacity="0.38" stroke-width="0.4"/><path d="M323.10,337.06A76.70,76.70 0 0 1 321.78,333.37L350.91,323.74A46.02,46.02 0 0 0 351.70,325.96Z" fill="#f582a0" stroke="#fff" stroke-opacity="0.38" stroke-width="0.4"/><path d="M321.78,333.37A76.70,76.70 0 0 1 318.06,314.19L348.67,312.24A46.02,46.02 0 0 0 350.91,323.74Z" fill="#f3708e" stroke="#fff" stroke-opacity="0.38" stroke-width="0.4"/><path d="M318.06,314.19A76.70,76.70 0 0 1 317.96,306.36L348.61,307.54A46.02,46.02 0 0 0 348.67,312.24Z" fill="#f0e87a" stroke="#fff" stroke-opacity="0.38" stroke-width="0.4"/><path d="M317.96,306.36A76.70,76.70 0 0 1 321.18,287.09L350.55,295.98A46.02,46.02 0 0 0 348.61,307.54Z" fill="#fde469" stroke="#fff" stroke-opacity="0.38" stroke-width="0.4"/><path d="M321.18,287.09A76.70,76.70 0 0 1 323.83,279.72L352.14,291.55A46.02,46.02 0 0 0 350.55,295.98Z" fill="#4bb9c3" stroke="#fff" stroke-opacity="0.38" stroke-width="0.4"/><path d="M323.83,279.72A76.70,76.70 0 0 1 347.33,248.90L366.24,273.06A46.02,46.02 0 0 0 352.14,291.55Z" fill="#42aeb6" stroke="#fff" stroke-opacity="0.38" stroke-width="0.4"/><path d="M347.33,248.90A76.70,76.70 0 0 1 382.89,233.50L387.58,263.82A46.02,46.02 0 0 0 366.24,273.06Z" fill="#39a3a8" stroke="#fff" stroke-opacity="0.38" stroke-width="0.4"/><path d="M382.89,233.50A76.70,76.70 0 0 1 394.60,232.60L394.60,263.28A46.02,46.02 0 0 0 387.58,263.82Z" fill="#30989b" stroke="#fff" stroke-opacity="0.38" stroke-width="0.4"/><path d="M394.60,309.30L394.60,263.28A46.02,46.02 0 0 1 396.95,263.34Z" fill="#7db8e0" stroke="#fff" stroke-opacity="0.35" stroke-width="0.4"/><path d="M394.60,309.30L396.95,263.34A46.02,46.02 0 0 1 412.89,267.07Z" fill="#34373c" stroke="#fff" stroke-opacity="0.35" stroke-width="0.4"/><path d="M394.60,309.30L412.89,267.07A46.02,46.02 0 0 1 437.06,291.55Z" fill="#7cc674" stroke="#fff" stroke-opacity="0.35" stroke-width="0.4"/><path d="M394.60,309.30L437.06,291.55A46.02,46.02 0 0 1 433.23,334.31Z" fill="#f9a15f" stroke="#fff" stroke-opacity="0.35" stroke-width="0.4"/><path d="M394.60,309.30L433.23,334.31A46.02,46.02 0 0 1 354.75,332.31Z" fill="#717fc7" stroke="#fff" stroke-opacity="0.35" stroke-width="0.4"/><path d="M394.60,309.30L354.75,332.31A46.02,46.02 0 0 1 348.67,312.24Z" fill="#f0607f" stroke="#fff" stroke-opacity="0.35" stroke-width="0.4"/><path d="M394.60,309.30L348.67,312.24A46.02,46.02 0 0 1 350.55,295.98Z" fill="#ebd75f" stroke="#fff" stroke-opacity="0.35" stroke-width="0.4"/><path d="M394.60,309.30L350.55,295.98A46.02,46.02 0 0 1 394.60,263.28Z" fill="#2a9494" stroke="#fff" stroke-opacity="0.35" stroke-width="0.4"/></g>
<g class="lab"><text x="124.80" y="3.77" text-anchor="start">BRAF: 0.0 %</text><text x="161.90" y="11.84" text-anchor="start">STAT6: 0.0 %</text><text x="175.83" y="19.91" text-anchor="start">SOCS1: 1.5 %</text><text x="185.65" y="27.98" text-anchor="start">MFHAS1: 0.3 %</text><text x="193.14" y="36.05" text-anchor="start">XPO1: 0.3 %</text><text x="199.01" y="44.12" text-anchor="start">MYC: 3.0 %</text><text x="203.63" y="52.19" text-anchor="start">CDKN2B: 0.0 %</text><text x="207.21" y="60.26" text-anchor="start">CDKN2A: 0.6 %</text><text x="209.88" y="68.33" text-anchor="start">FOXO1: 0.9 %</text><text x="211.72" y="76.40" text-anchor="start">TP53: 4.5 %</text><text x="212.78" y="84.47" text-anchor="start">GNA13: 2.7 %</text><text x="213.10" y="92.54" text-anchor="start">BCL2: 0.3 %</text><text x="212.68" y="100.61" text-anchor="start">TNFAIP3: 3.6 %</text><text x="211.50" y="108.68" text-anchor="start">MYD88: 7.2 %</text><text x="195.59" y="144.75" text-anchor="start">PIM1: 20.2 %</text><text x="139.81" y="178.98" text-anchor="start">CARD11: 3.9 %</text><text x="110.53" y="179.87" text-anchor="end">IRF4: 4.5 %</text><text x="69.52" y="165.17" text-anchor="end">PRDM1: 5.4 %</text><text x="59.28" y="157.10" text-anchor="end">EZH2: 0.0 %</text><text x="48.61" y="145.42" text-anchor="end">KMT2D: 10.9 %</text><text x="32.20" y="108.68" text-anchor="end">EP300: 4.2 %</text><text x="31.02" y="100.61" text-anchor="end">MEF2B: 3.3 %</text><text x="30.60" y="92.54" text-anchor="end">CREBBP: 1.8 %</text><text x="30.92" y="84.47" text-anchor="end">ID3: 1.5 %</text><text x="31.98" y="76.40" text-anchor="end">CD79B: 6.7 %</text><text x="33.82" y="68.33" text-anchor="end">CD79A: 0.0 %</text><text x="36.49" y="60.26" text-anchor="end">ITPKB: 2.4 %</text><text x="40.07" y="52.19" text-anchor="end">TCF3: 0.3 %</text><text x="44.69" y="44.12" text-anchor="end">NOTCH1: 1.8 %</text><text x="50.56" y="36.05" text-anchor="end">NOTCH2: 0.6 %</text><text x="58.05" y="27.98" text-anchor="end">CD58: 1.5 %</text><text x="67.87" y="19.91" text-anchor="end">TNFRSF14: 0.6 %</text><text x="81.80" y="11.84" text-anchor="end">B2M: 2.1 %</text><text x="110.53" y="3.77" text-anchor="end">CIITA: 3.0 %</text><text x="400.70" y="3.77" text-anchor="start">BRAF: 0.0 %</text><text x="437.80" y="11.84" text-anchor="start">STAT6: 3.3 %</text><text x="451.73" y="19.91" text-anchor="start">SOCS1: 6.4 %</text><text x="461.55" y="27.98" text-anchor="start">MFHAS1: 2.7 %</text><text x="469.04" y="36.05" text-anchor="start">XPO1: 0.2 %</text><text x="474.91" y="44.12" text-anchor="start">MYC: 4.7 %</text><text x="479.53" y="52.19" text-anchor="start">CDKN2B: 0.2 %</text><text x="483.11" y="60.26" text-anchor="start">CDKN2A: 0.2 %</text><text x="485.78" y="68.33" text-anchor="start">FOXO1: 2.8 %</text><text x="487.62" y="76.40" text-anchor="start">TP53: 3.3 %</text><text x="488.81" y="97.78" text-anchor="start">GNA13: 4.4 %</text><text x="485.45" y="116.75" text-anchor="start">BCL2: 7.7 %</text><text x="482.66" y="124.82" text-anchor="start">TNFAIP3: 2.2 %</text><text x="478.95" y="132.89" text-anchor="start">MYD88: 1.8 %</text><text x="474.16" y="140.96" text-anchor="start">PIM1: 2.2 %</text><text x="468.09" y="149.03" text-anchor="start">CARD11: 1.6 %</text><text x="460.32" y="157.10" text-anchor="start">IRF4: 0.9 %</text><text x="450.08" y="165.17" text-anchor="start">PRDM1: 1.1 %</text><text x="415.33" y="179.05" text-anchor="start">EZH2: 3.3 %</text><text x="360.80" y="173.46" text-anchor="end">KMT2D: 14.6 %</text><text x="323.33" y="143.82" text-anchor="end">EP300: 2.9 %</text><text x="312.96" y="125.12" text-anchor="end">MEF2B: 4.9 %</text><text x="306.50" y="92.54" text-anchor="end">CREBBP: 6.9 %</text><text x="306.82" y="84.47" text-anchor="end">ID3: 0.4 %</text><text x="307.88" y="76.40" text-anchor="end">CD79B: 0.7 %</text><text x="309.72" y="68.33" text-anchor="end">CD79A: 0.4 %</text><text x="312.39" y="60.26" text-anchor="end">ITPKB: 4.7 %</text><text x="315.97" y="52.19" text-anchor="end">TCF3: 0.4 %</text><text x="320.59" y="44.12" text-anchor="end">NOTCH1: 0.2 %</text><text x="326.46" y="36.05" text-anchor="end">NOTCH2: 2.0 %</text><text x="333.95" y="27.98" text-anchor="end">CD58: 2.9 %</text><text x="343.77" y="19.91" text-anchor="end">TNFRSF14: 3.5 %</text><text x="357.70" y="11.84" text-anchor="end">B2M: 4.0 %</text><text x="387.46" y="3.77" text-anchor="end">CIITA: 2.7 %</text><text x="125.10" y="223.52" text-anchor="start">BRAF: 0.0 %</text><text x="162.20" y="231.59" text-anchor="start">STAT6: 13.3 %</text><text x="210.90" y="290.85" text-anchor="start">SOCS1: 15.8 %</text><text x="211.80" y="328.43" text-anchor="start">MFHAS1: 6.3 %</text><text x="209.85" y="336.50" text-anchor="start">XPO1: 4.4 %</text><text x="207.06" y="344.57" text-anchor="start">MYC: 0.6 %</text><text x="203.35" y="352.64" text-anchor="start">CDKN2B: 0.0 %</text><text x="198.56" y="360.71" text-anchor="start">CDKN2A: 0.0 %</text><text x="192.49" y="368.78" text-anchor="start">FOXO1: 0.6 %</text><text x="184.72" y="376.85" text-anchor="start">TP53: 1.3 %</text><text x="174.48" y="384.92" text-anchor="start">GNA13: 7.6 %</text><text x="125.10" y="400.02" text-anchor="start">BCL2: 0.0 %</text><text x="93.25" y="396.12" text-anchor="end">TNFAIP3: 9.5 %</text><text x="51.81" y="368.78" text-anchor="end">MYD88: 0.0 %</text><text x="59.58" y="376.85" text-anchor="end">PIM1: 0.0 %</text><text x="69.82" y="384.92" text-anchor="end">CARD11: 0.0 %</text><text x="45.74" y="360.71" text-anchor="end">IRF4: 1.3 %</text><text x="40.95" y="352.64" text-anchor="end">PRDM1: 0.0 %</text><text x="37.24" y="344.57" text-anchor="end">EZH2: 0.6 %</text><text x="34.45" y="336.50" text-anchor="end">KMT2D: 1.9 %</text><text x="32.50" y="328.43" text-anchor="end">EP300: 1.9 %</text><text x="31.32" y="320.36" text-anchor="end">MEF2B: 1.3 %</text><text x="30.90" y="312.29" text-anchor="end">CREBBP: 1.3 %</text><text x="31.22" y="304.22" text-anchor="end">ID3: 1.9 %</text><text x="34.12" y="288.08" text-anchor="end">CD79B: 0.0 %</text><text x="32.28" y="296.15" text-anchor="end">CD79A: 0.0 %</text><text x="36.79" y="280.01" text-anchor="end">ITPKB: 8.9 %</text><text x="40.37" y="271.94" text-anchor="end">TCF3: 0.0 %</text><text x="44.99" y="263.87" text-anchor="end">NOTCH1: 0.6 %</text><text x="50.86" y="255.80" text-anchor="end">NOTCH2: 0.0 %</text><text x="58.35" y="247.73" text-anchor="end">CD58: 5.1 %</text><text x="68.17" y="239.66" text-anchor="end">TNFRSF14: 0.0 %</text><text x="82.10" y="231.59" text-anchor="end">B2M: 7.0 %</text><text x="94.94" y="223.52" text-anchor="end">CIITA: 8.9 %</text><text x="402.16" y="223.32" text-anchor="start">BRAF: 0.8 %</text><text x="437.00" y="231.39" text-anchor="start">STAT6: 1.6 %</text><text x="450.93" y="239.46" text-anchor="start">SOCS1: 4.1 %</text><text x="460.75" y="247.53" text-anchor="start">MFHAS1: 3.2 %</text><text x="468.24" y="255.60" text-anchor="start">XPO1: 0.8 %</text><text x="474.11" y="263.67" text-anchor="start">MYC: 0.8 %</text><text x="478.73" y="271.74" text-anchor="start">CDKN2B: 0.8 %</text><text x="482.31" y="279.81" text-anchor="start">CDKN2A: 0.0 %</text><text x="484.98" y="287.88" text-anchor="start">FOXO1: 0.8 %</text><text x="486.82" y="295.95" text-anchor="start">TP53: 1.6 %</text><text x="487.88" y="304.02" text-anchor="start">GNA13: 3.2 %</text><text x="488.20" y="312.09" text-anchor="start">BCL2: 0.8 %</text><text x="487.78" y="320.16" text-anchor="start">TNFAIP3: 4.1 %</text><text x="486.60" y="328.23" text-anchor="start">MYD88: 4.1 %</text><text x="484.65" y="336.30" text-anchor="start">PIM1: 2.4 %</text><text x="481.86" y="344.37" text-anchor="start">CARD11: 4.1 %</text><text x="478.15" y="352.44" text-anchor="start">IRF4: 0.0 %</text><text x="473.36" y="360.51" text-anchor="start">PRDM1: 0.8 %</text><text x="467.29" y="368.58" text-anchor="start">EZH2: 2.4 %</text><text x="428.68" y="395.00" text-anchor="start">KMT2D: 16.3 %</text><text x="363.09" y="394.23" text-anchor="end">EP300: 5.7 %</text><text x="344.62" y="384.72" text-anchor="end">MEF2B: 1.6 %</text><text x="328.21" y="370.42" text-anchor="end">CREBBP: 6.5 %</text><text x="315.75" y="352.44" text-anchor="end">ID3: 2.4 %</text><text x="312.04" y="344.37" text-anchor="end">CD79B: 0.8 %</text><text x="309.25" y="336.30" text-anchor="end">CD79A: 0.0 %</text><text x="307.30" y="328.23" text-anchor="end">ITPKB: 4.1 %</text><text x="306.12" y="320.16" text-anchor="end">TCF3: 0.0 %</text><text x="305.70" y="312.09" text-anchor="end">NOTCH1: 1.6 %</text><text x="306.91" y="296.93" text-anchor="end">NOTCH2: 4.1 %</text><text x="310.90" y="281.67" text-anchor="end">CD58: 1.6 %</text><text x="323.78" y="257.99" text-anchor="end">TNFRSF14: 8.1 %</text><text x="356.90" y="231.39" text-anchor="end">B2M: 8.1 %</text><text x="387.24" y="223.32" text-anchor="end">CIITA: 2.4 %</text></g>
<g class="leg"><rect x="214.2" y="168.30" width="6" height="4" fill="#7db8e0"/><text x="222.0" y="171.85">MAP_Kinases</text><rect x="214.2" y="177.80" width="6" height="4" fill="#34373c"/><text x="222.0" y="181.35">JAK_STAT</text><rect x="214.2" y="187.30" width="6" height="4" fill="#7cc674"/><text x="222.0" y="190.85">Apoptosis</text><rect x="214.2" y="196.80" width="6" height="4" fill="#f9a15f"/><text x="222.0" y="200.35">NF-κB</text><rect x="214.2" y="206.30" width="6" height="4" fill="#717fc7"/><text x="222.0" y="209.85">Epigenetic regulation</text><rect x="214.2" y="215.80" width="6" height="4" fill="#f0607f"/><text x="222.0" y="219.35">BCR</text><rect x="214.2" y="225.30" width="6" height="4" fill="#ebd75f"/><text x="222.0" y="228.85">NOTCH</text><rect x="214.2" y="234.80" width="6" height="4" fill="#2a9494"/><text x="222.0" y="238.35">Immunity</text></g>
<g class="ttl"><text x="119.5" y="96.5" text-anchor="middle">ABC</text><text x="395.4" y="96.5" text-anchor="middle">GCB</text><text x="119.8" y="316.2" text-anchor="middle">PMBL</text><text x="394.6" y="314.4" text-anchor="middle">other</text></g>
<g class="pan"><text x="4.8" y="10.5">A</text><text x="276.4" y="10.6">B</text><text x="4.4" y="229.7">C</text><text x="276.5" y="230.4">D</text></g>
</svg>
</body></html>
